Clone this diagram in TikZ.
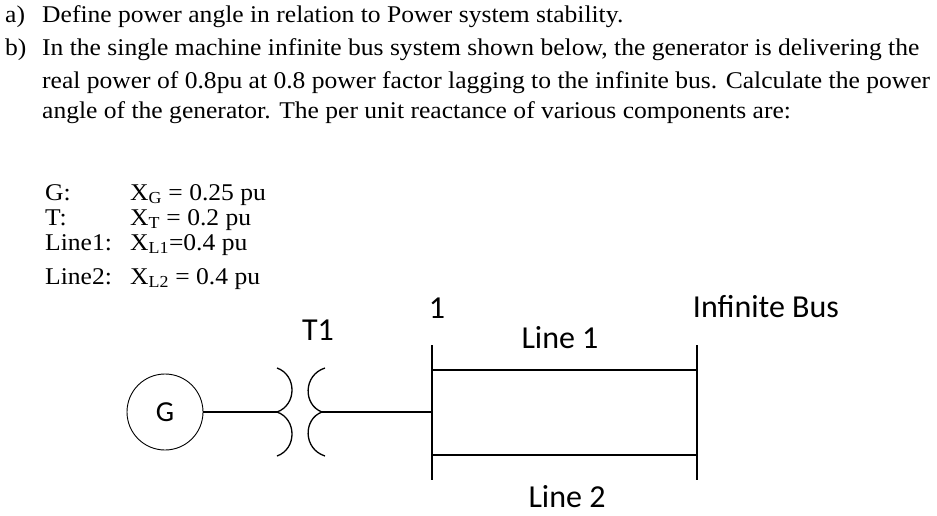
\documentclass[tikz,border=0pt]{standalone}
\usepackage{fontspec}
\setmainfont{Liberation Serif}[FakeStretch=1.065]
\newfontfamily\diagfont{Carlito}
\begin{document}
\begin{tikzpicture}[x=1pt,y=-1pt,
  txt/.style={anchor=base west,inner sep=0pt,font=\fontsize{24}{28}\selectfont},
  lbl/.style={inner sep=0pt,font=\diagfont\fontsize{32}{36}\selectfont},
  wire/.style={line width=1.3pt},
  bus/.style={line width=2.2pt}]
\useasboundingbox (0,0) rectangle (937,515);
% question text
\node[txt] (qa) at (5,22) {a)};
\node[txt] (qat) at (42,22) {Define power angle in relation to Power system stability.};
\node[txt] (qb) at (5,55) {b)};
\node[txt] (qb1) at (42,55) {In the single machine infinite bus system shown below, the generator is delivering the};
\node[txt] (qb2) at (42,88) {real power of 0.8pu at 0.8 power factor lagging to the infinite bus. Calculate the power};
\node[txt] (qb3) at (42,118) {angle of the generator. The per unit reactance of various components are:};
% reactance table
\node[txt] (tg) at (45,200) {G:};
\node[txt] (tgv) at (130,200) {X\textsubscript{G} = 0.25 pu};
\node[txt] (tt) at (45,225) {T:};
\node[txt] (ttv) at (130,225) {X\textsubscript{T} = 0.2 pu};
\node[txt] (tl1) at (45,250) {Line1:};
\node[txt] (tl1v) at (130,250) {X\textsubscript{L1}=0.4 pu};
\node[txt] (tl2) at (45,284) {Line2:};
\node[txt] (tl2v) at (130,284) {X\textsubscript{L2} = 0.4 pu};
% one-line diagram
\node[draw,circle,line width=0.9pt,minimum size=76pt,inner sep=0pt,font=\diagfont\fontsize{29}{34}\selectfont] (gen) at (165,412) {G};
\coordinate (pa) at (277,368);
\coordinate (pm) at (277,412);
\coordinate (pb) at (277,456);
\coordinate (sa) at (325,368);
\coordinate (sm) at (322,412);
\coordinate (sb) at (325,456);
\coordinate (b1t) at (432,345);
\coordinate (b1m) at (432,412);
\coordinate (b1b) at (432,480);
\coordinate (b2t) at (697,345);
\coordinate (b2b) at (697,480);
\coordinate (l1a) at (432,370);
\coordinate (l1b) at (697,370);
\coordinate (l2a) at (432,455);
\coordinate (l2b) at (697,455);
\draw[wire] (gen.east) -- (pm);
\draw[wire] (pa) .. controls (297,375) and (297,405) .. (pm)
  .. controls (297,419) and (297,449) .. (pb);
\draw[wire] (sa) .. controls (303,375) and (303,405) .. (sm)
  .. controls (303,419) and (303,449) .. (sb);
\draw[wire] (sm) -- (b1m);
\draw[bus] (b1t) -- (b1b);
\draw[bus] (b2t) -- (b2b);
\draw[bus] (l1a) -- (l1b);
\draw[bus] (l2a) -- (l2b);
\node[lbl] (t1) at (318,330) {T1};
\node[lbl] (n1) at (437,308) {1};
\node[lbl] (ln1) at (560,338) {Line 1};
\node[lbl] (ln2) at (567,497) {Line 2};
\node[lbl] (inf) at (766,307) {Infinite Bus};
\end{tikzpicture}
\end{document}
